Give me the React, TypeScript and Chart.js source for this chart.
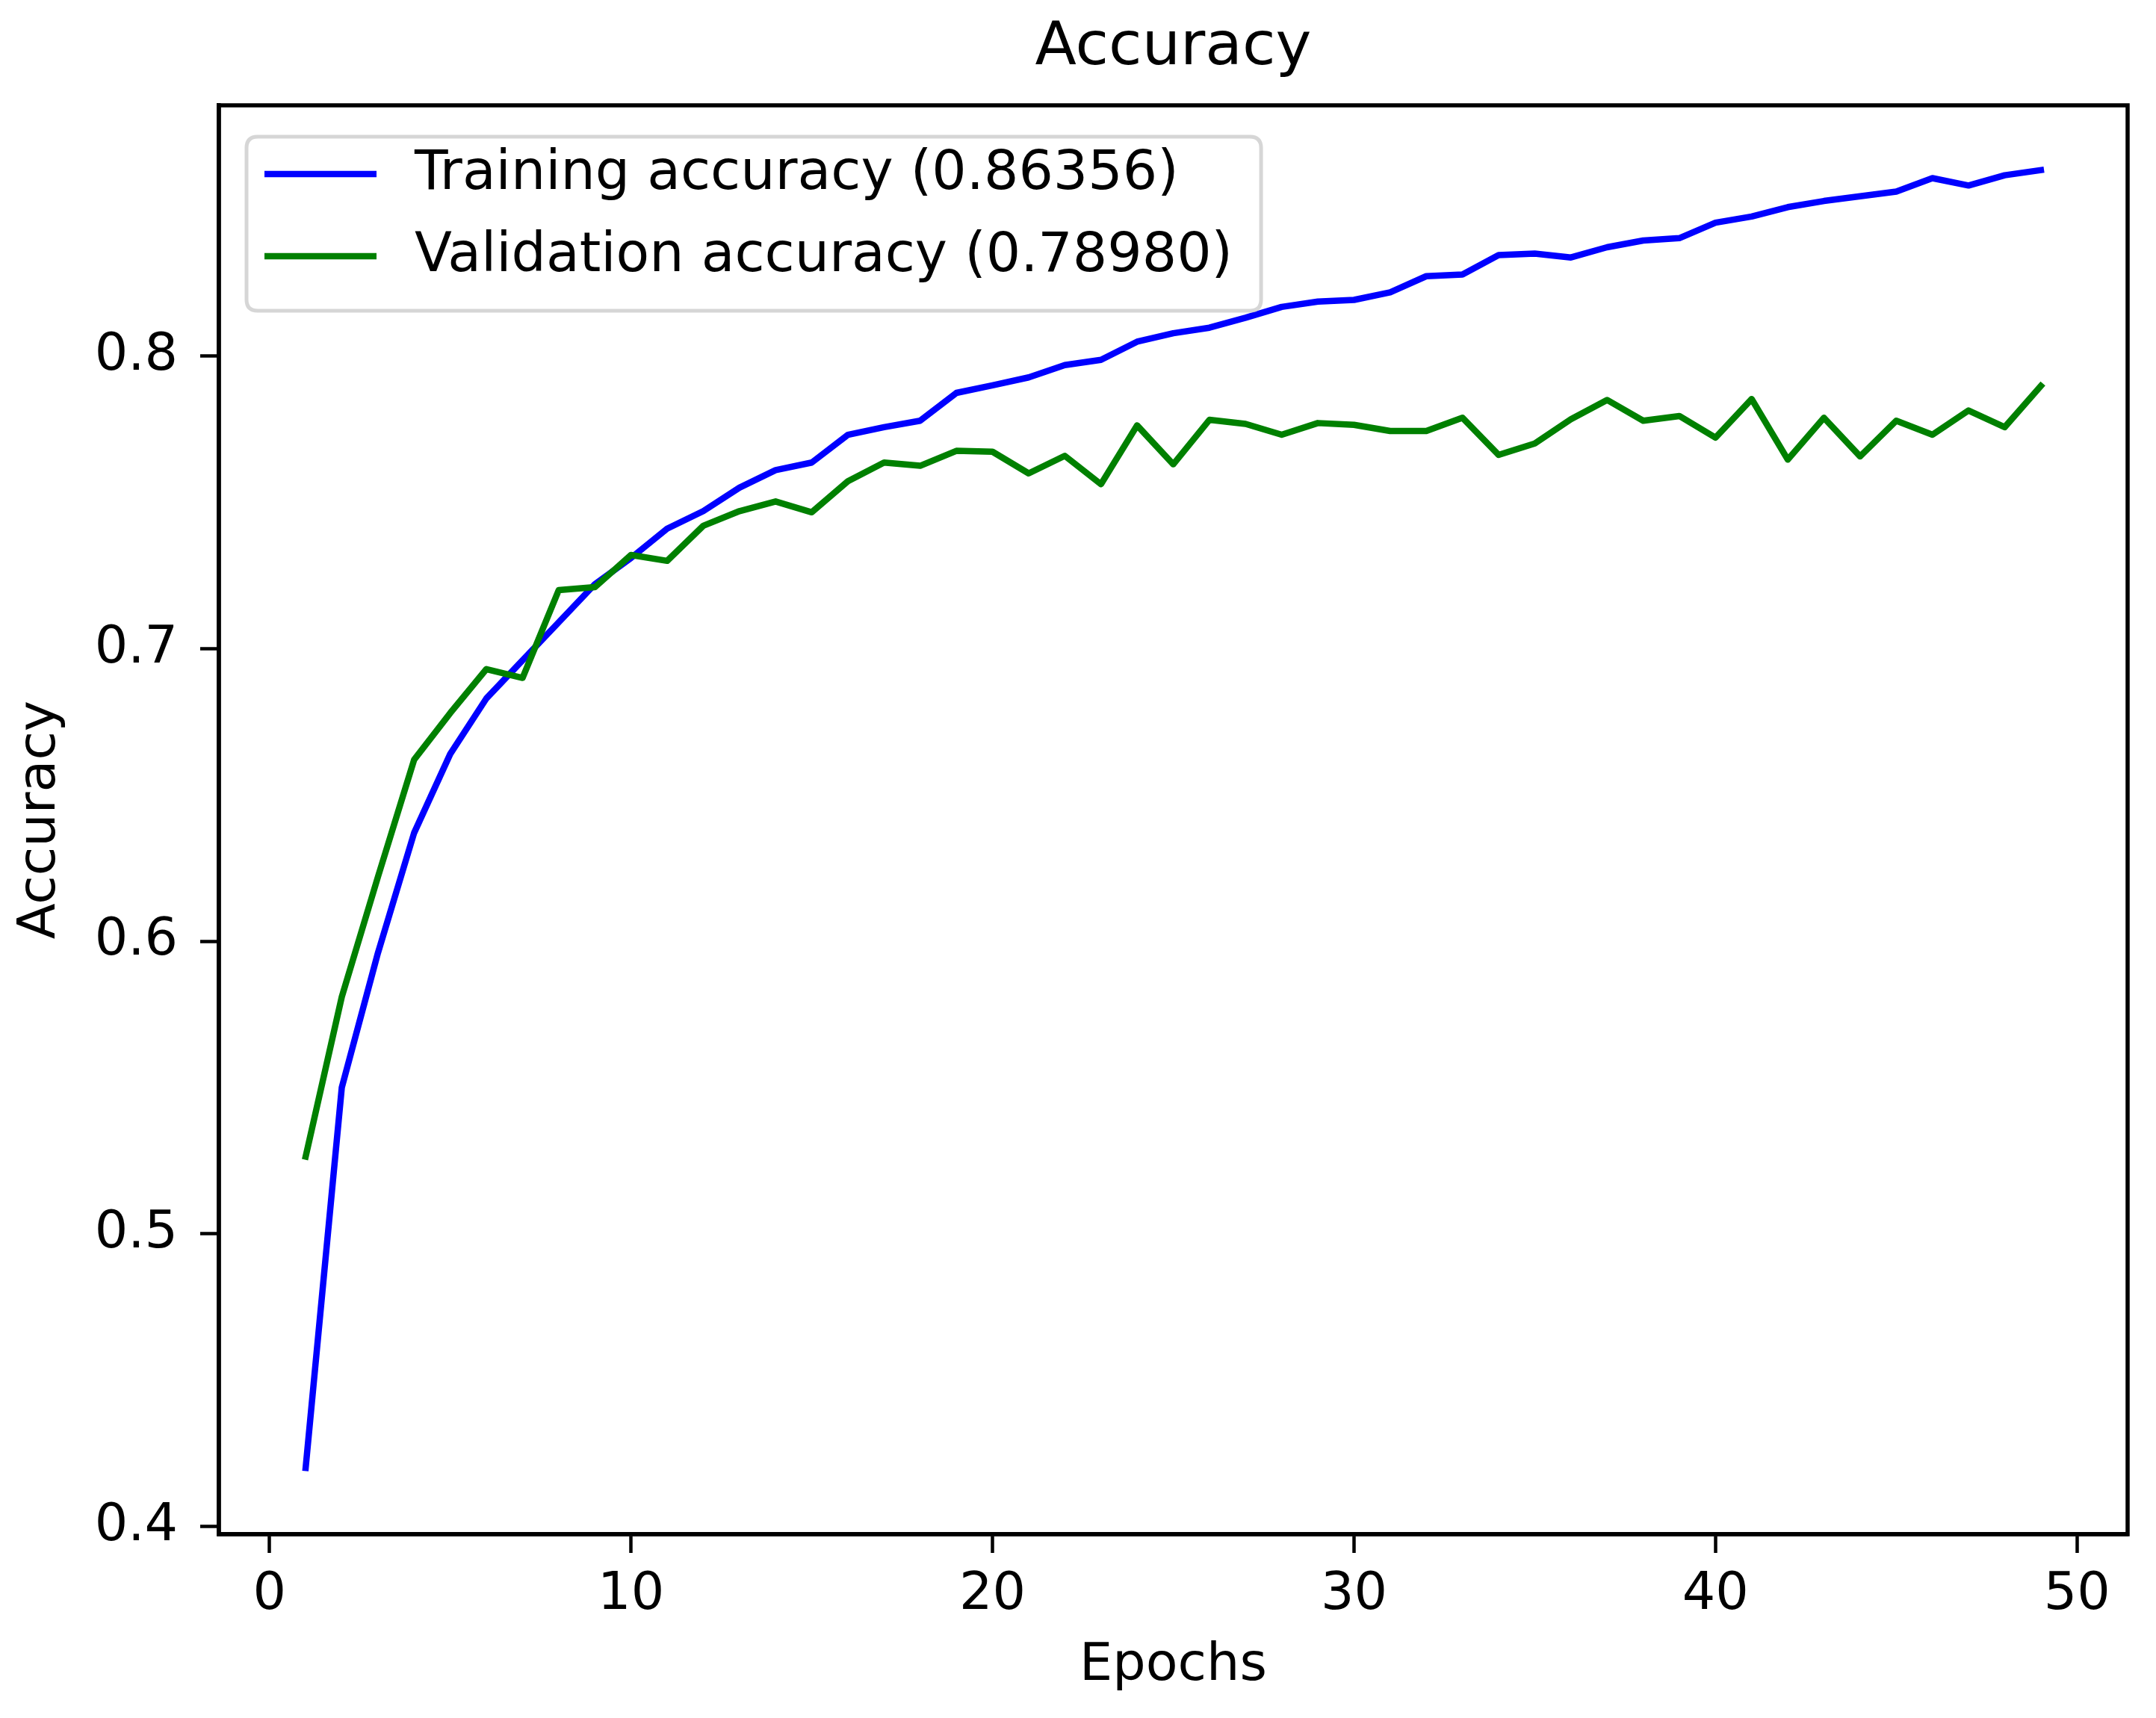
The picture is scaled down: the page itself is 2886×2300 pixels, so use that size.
import React, { useEffect, useRef } from 'react';
import { Chart, registerables } from 'chart.js';

Chart.register(...registerables);

// ---- data ----
const epochs = [
  1, 2, 3, 4, 5, 6, 7, 8, 9, 10,
  11, 12, 13, 14, 15, 16, 17, 18, 19, 20,
  21, 22, 23, 24, 25, 26, 27, 28, 29, 30,
  31, 32, 33, 34, 35, 36, 37, 38, 39, 40,
  41, 42, 43, 44, 45, 46, 47, 48, 49,
];

const trainingAccuracy = [
  0.420, 0.550, 0.596, 0.637, 0.664, 0.683, 0.696, 0.709, 0.722, 0.731,
  0.741, 0.747, 0.755, 0.761, 0.7636, 0.7731, 0.7757, 0.7779, 0.7874, 0.7900,
  0.7927, 0.7969, 0.7987, 0.8049, 0.8078, 0.8097, 0.8131, 0.8168, 0.8186, 0.8192,
  0.8218, 0.8273, 0.8279, 0.8345, 0.8350, 0.8337, 0.8372, 0.8395, 0.8403, 0.8456,
  0.8477, 0.8509, 0.8530, 0.8546, 0.8562, 0.8608, 0.8583, 0.8618, 0.86356,
];

const validationAccuracy = [
  0.5264, 0.581, 0.622, 0.662, 0.678, 0.693, 0.690, 0.720, 0.721, 0.732,
  0.730, 0.742, 0.747, 0.7503, 0.7466, 0.7572, 0.7636, 0.7625, 0.7676, 0.7673,
  0.7599, 0.7659, 0.7562, 0.7763, 0.7630, 0.7782, 0.7768, 0.7731, 0.7771, 0.7765,
  0.7744, 0.7744, 0.7789, 0.7662, 0.7701, 0.7784, 0.7850, 0.7779, 0.7795, 0.7721,
  0.7853, 0.7646, 0.7789, 0.7657, 0.7779, 0.7731, 0.7814, 0.7757, 0.7898,
];

const seriesLabels = ['Training accuracy (0.86356)', 'Validation accuracy (0.78980)'];
const seriesColors = ['#0000ff', '#008000'];

const xTicks = [0, 10, 20, 30, 40, 50];
const yTicks = [0.4, 0.5, 0.6, 0.7, 0.8];

const chartTitle = 'Accuracy';
const xTitle = 'Epochs';
const yTitle = 'Accuracy';

// ---- layout constants ----
const W = 2886;
const H = 2300;
const FONT = "'DejaVu Sans', sans-serif";

const framePlugin = {
  id: 'mplFrame',
  afterDatasetsDraw(chart: any) {
    const { ctx, chartArea: ca } = chart;
    const fs = 73;
    ctx.save();
    ctx.font = `${fs}px ${FONT}`;
    const labels: string[] = chart.data.datasets.map((d: any) => d.label);
    const colors: string[] = chart.data.datasets.map((d: any) => d.borderColor);
    const textW = Math.max(...labels.map((l) => ctx.measureText(l).width));
    const fx = ca.left + 37;
    const fy = ca.top + 42;
    const textX = fx + 225;
    const fw = 225 + textW + 38;
    const fh = 233;
    const r = 15;
    ctx.beginPath();
    ctx.moveTo(fx + r, fy);
    ctx.lineTo(fx + fw - r, fy);
    ctx.quadraticCurveTo(fx + fw, fy, fx + fw, fy + r);
    ctx.lineTo(fx + fw, fy + fh - r);
    ctx.quadraticCurveTo(fx + fw, fy + fh, fx + fw - r, fy + fh);
    ctx.lineTo(fx + r, fy + fh);
    ctx.quadraticCurveTo(fx, fy + fh, fx, fy + fh - r);
    ctx.lineTo(fx, fy + r);
    ctx.quadraticCurveTo(fx, fy, fx + r, fy);
    ctx.closePath();
    ctx.fillStyle = 'rgba(255,255,255,0.8)';
    ctx.fill();
    ctx.strokeStyle = 'rgba(204,204,204,0.8)';
    ctx.lineWidth = 5;
    ctx.stroke();

    labels.forEach((label, i) => {
      const cy = fy + 50 + i * 110;
      ctx.beginPath();
      ctx.moveTo(fx + 24, cy);
      ctx.lineTo(fx + 174, cy);
      ctx.strokeStyle = colors[i];
      ctx.lineWidth = 8.5;
      ctx.lineCap = 'butt';
      ctx.stroke();
      ctx.fillStyle = '#000000';
      ctx.textBaseline = 'middle';
      ctx.textAlign = 'left';
      ctx.fillText(label, textX, cy + 1);
    });
    ctx.restore();
  },
  afterDraw(chart: any) {
    const { ctx, chartArea: ca } = chart;
    ctx.save();
    ctx.strokeStyle = '#000000';
    ctx.lineWidth = 5.5;
    ctx.lineJoin = 'miter';
    ctx.strokeRect(ca.left, ca.top, ca.right - ca.left, ca.bottom - ca.top);
    ctx.restore();
  },
};

export default function App() {
  const canvasRef = useRef<HTMLCanvasElement | null>(null);

  useEffect(() => {
    document.body.style.margin = '0';
    document.body.style.overflow = 'hidden';
    const canvas = canvasRef.current;
    if (!canvas) return;

    const tickFont = { family: FONT, size: 70, lineHeight: 1.2 };

    const chart = new Chart(canvas, {
      type: 'line',
      data: {
        datasets: [
          {
            label: seriesLabels[0],
            data: epochs.map((e, i) => ({ x: e, y: trainingAccuracy[i] })),
            borderColor: seriesColors[0],
            backgroundColor: seriesColors[0],
            borderWidth: 8.5,
            pointRadius: 0,
            tension: 0,
            fill: false,
            borderJoinStyle: 'round',
            borderCapStyle: 'square',
            order: 1,
          },
          {
            label: seriesLabels[1],
            data: epochs.map((e, i) => ({ x: e, y: validationAccuracy[i] })),
            borderColor: seriesColors[1],
            backgroundColor: seriesColors[1],
            borderWidth: 8.5,
            pointRadius: 0,
            tension: 0,
            fill: false,
            borderJoinStyle: 'round',
            borderCapStyle: 'square',
            order: 0,
          },
        ],
      },
      options: {
        responsive: false,
        maintainAspectRatio: false,
        devicePixelRatio: 1,
        animation: false,
        events: [],
        layout: { padding: { left: 0, right: 38, top: 0, bottom: 0 } },
        plugins: {
          legend: { display: false },
          tooltip: { enabled: false },
          title: {
            display: true,
            text: chartTitle,
            fullSize: false,
            color: '#000000',
            font: { family: FONT, size: 81, weight: 'normal', lineHeight: 1.2 },
            padding: { top: 16, bottom: 27.8 },
          },
        },
        scales: {
          x: {
            type: 'linear',
            min: -1.4,
            max: 51.4,
            afterBuildTicks: (scale: any) => {
              scale.ticks = xTicks.map((v) => ({ value: v }));
            },
            afterFit: (scale: any) => {
              scale.height = 246;
            },
            ticks: {
              color: '#000000',
              font: tickFont,
              padding: 15,
              maxRotation: 0,
              autoSkip: false,
              callback: (v: any) => String(v),
            },
            grid: {
              display: true,
              drawOnChartArea: false,
              drawTicks: true,
              tickLength: 25,
              tickWidth: 4.5,
              tickColor: '#000000',
              color: '#000000',
            },
            border: { display: true, color: '#000000', width: 5.5 },
            title: {
              display: true,
              text: xTitle,
              color: '#000000',
              font: tickFont,
              padding: { top: 0, bottom: 27 },
            },
          },
          y: {
            type: 'linear',
            min: 0.3973,
            max: 0.8857,
            afterBuildTicks: (scale: any) => {
              scale.ticks = yTicks.map((v) => ({ value: v }));
            },
            afterFit: (scale: any) => {
              scale.width = 293;
            },
            ticks: {
              color: '#000000',
              font: tickFont,
              padding: 30,
              autoSkip: false,
              callback: (v: any) => Number(v).toFixed(1),
            },
            grid: {
              display: true,
              drawOnChartArea: false,
              drawTicks: true,
              tickLength: 25,
              tickWidth: 4.5,
              tickColor: '#000000',
              color: '#000000',
            },
            border: { display: true, color: '#000000', width: 5.5 },
            title: {
              display: true,
              text: yTitle,
              color: '#000000',
              font: tickFont,
              padding: { top: 12.6, bottom: 0 },
            },
          },
        },
      },
      plugins: [framePlugin],
    } as any);

    return () => {
      chart.destroy();
    };
  }, []);

  return (
    <div style={{ width: W, height: H, background: '#ffffff' }}>
      <canvas ref={canvasRef} width={W} height={H} style={{ display: 'block', width: W, height: H }} />
    </div>
  );
}
